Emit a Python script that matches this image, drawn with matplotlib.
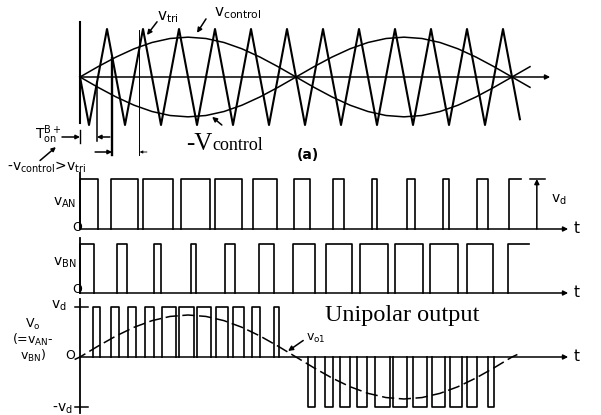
import numpy as np
import matplotlib
matplotlib.use('Agg')
import matplotlib.pyplot as plt

plt.rcParams['font.family'] = ['DejaVu Sans']
plt.rcParams['mathtext.fontset'] = 'dejavusans'

# ---------------- data (time in carrier periods, voltages normalised) ----------------
# triangular carrier vertices
tri_t = [0, 0.25, 0.75, 1.25, 1.75, 2.25, 2.75, 3.25, 3.75, 4.25, 4.75, 5.25, 5.75,
         6.25, 6.75, 7.25, 7.75, 8.25, 8.75, 9.25, 9.75, 10.25, 10.75, 11.25, 11.75, 12.22]
tri_v = [0, -1, 1, -1, 1, -1, 1, -1, 1, -1, 1, -1, 1,
         -1, 1, -1, 1, -1, 1, -1, 1, -1, 1, -1, 1, -0.88]

# control signal samples
ctl_t = [0, 0.5, 1, 1.5, 2, 2.5, 3, 3.5, 4, 4.5, 5, 5.5, 6,
         6.5, 7, 7.5, 8, 8.5, 9, 9.5, 10, 10.5, 11, 11.5, 12, 12.5]
ctl_v = [0, 0.215, 0.415, 0.587, 0.719, 0.802, 0.83, 0.802, 0.719, 0.587, 0.415, 0.215, 0,
         -0.215, -0.415, -0.587, -0.719, -0.802, -0.83, -0.802, -0.719, -0.587, -0.415, -0.215, 0, 0.215]

# v_AN pulses (rise, fall); last one open-ended
van_edges = [(0, 0.5), (0.86, 1.61), (1.75, 2.58), (2.81, 3.61), (3.75, 4.5), (4.81, 5.47),
             (5.94, 6.39), (7.03, 7.33), (8.11, 8.25), (9.08, 9.31), (10.08, 10.25), (11.03, 11.33)]
van_last = (11.92, 12.25)

# v_BN pulses
vbn_edges = [(0, 0.39), (1.03, 1.31), (2.06, 2.25), (3.08, 3.22), (4.03, 4.31), (4.97, 5.39),
             (5.92, 6.53), (6.83, 7.56), (7.78, 8.56), (8.75, 9.53), (9.72, 10.5), (10.75, 11.47)]
vbn_last = (11.89, 12.47)

# v_o pulses
vo_pos = [(0.36, 0.56), (0.86, 1.08), (1.33, 1.56), (1.81, 2.06), (2.28, 2.67), (2.75, 3.17),
          (3.25, 3.64), (3.78, 4.11), (4.25, 4.56), (4.78, 5.0), (5.39, 5.53)]
vo_neg = [(6.33, 6.53), (6.81, 7.03), (7.22, 7.5), (7.69, 7.97), (8.19, 8.61), (8.69, 9.08),
          (9.25, 9.64), (9.78, 10.14), (10.28, 10.61), (10.75, 11.03), (11.33, 11.5)]

# fundamental v_o1 samples
vo1_t = [-0.15, 0, 0.5, 1, 1.5, 2, 2.5, 3, 3.5, 4, 4.5, 5, 5.5, 6,
         6.5, 7, 7.5, 8, 8.5, 9, 9.5, 10, 10.5, 11, 11.5, 12, 12.15]
vo1_v = [-0.05, 0, 0.217, 0.42, 0.594, 0.727, 0.811, 0.84, 0.811, 0.727, 0.594, 0.42, 0.217, 0,
         -0.217, -0.42, -0.594, -0.727, -0.811, -0.84, -0.811, -0.727, -0.594, -0.42, -0.217, 0, 0.05]

# ---------------- figure ----------------
W, H = 601, 415
fig = plt.figure(figsize=(W / 100, H / 100), dpi=100)
XLIM = (-80 / 36, 521 / 36)


def band(top, bot, ylim):
    ax = fig.add_axes([0, 1 - bot / H, 1, (bot - top) / H])
    ax.set_xlim(*XLIM)
    ax.set_ylim(*ylim)
    ax.axis('off')
    return ax


def arrow(ax, x0, y0, x1, y1, lw=1.1, ms=7):
    ax.annotate('', xy=(x1, y1), xytext=(x0, y0), annotation_clip=False,
                arrowprops=dict(arrowstyle='-|>', lw=lw, color='black',
                                mutation_scale=ms, shrinkA=0, shrinkB=0))


def pulses(ax, edges, level, last=None, lw=1.2):
    xs, ys = [], []
    for a, b in edges:
        xs += [a, a, b, b, np.nan]
        ys += [0, level, level, 0, np.nan]
    if last is not None:
        xs += [last[0], last[0], last[1]]
        ys += [0, level, level]
    ax.plot(xs, ys, color='black', lw=lw, clip_on=False)


K = 'black'
serif = ['Liberation Serif', 'DejaVu Serif']

# ---- top panel: carrier & control ----
ax0 = band(0, 172, ((77 - 172) / 48, 77 / 48))
ax0.plot(tri_t, tri_v, color=K, lw=1.5, clip_on=False)
ax0.plot(ctl_t, ctl_v, color=K, lw=1.1, clip_on=False)
ax0.plot(ctl_t, -np.array(ctl_v), color=K, lw=1.1, clip_on=False)
ax0.plot([0, 0], [1.146, -0.958], color=K, lw=1.5)
arrow(ax0, 0, 0, 13.06, 0, lw=1.1, ms=7)
# marker lines
ax0.plot([0, 0], [-1.1, -1.375], color=K, lw=1.0, clip_on=False)
ax0.plot([0.47, 0.47], [-0.1, -1.33], color=K, lw=1.1, clip_on=False)
ax0.plot([0.89, 0.89], [0.4, -1.625], color=K, lw=1.7, clip_on=False)
ax0.plot([1.64, 1.64], [0.98, -1.625], color=K, lw=0.7, clip_on=False)
arrow(ax0, -0.5, -1.25, 0, -1.25, ms=6)
arrow(ax0, 0.83, -1.25, 0.47, -1.25, ms=6)
arrow(ax0, 0.42, -1.5625, 0.89, -1.5625, ms=6)
arrow(ax0, 1.86, -1.5625, 1.66, -1.5625, lw=0.6, ms=4)
ax0.text(-0.88, -1.2, 'T$^{\\mathrm{B+}}_{\\mathrm{on}}$', fontsize=10, ha='center', va='center')
ax0.text(-0.94, -1.875, '-v$_{\\mathrm{control}}$>v$_{\\mathrm{tri}}$', fontsize=10,
         ha='center', va='center')
arrow(ax0, -1.11, -1.74, -0.67, -1.46, ms=6)
ax0.text(2.45, 1.24, 'v$_{\\mathrm{tri}}$', fontsize=11, ha='center', va='center')
arrow(ax0, 2.14, 1.15, 1.86, 0.875, ms=7)
ax0.text(4.39, 1.33, 'v$_{\\mathrm{control}}$', fontsize=11, ha='center', va='center')
arrow(ax0, 3.5, 1.21, 3.25, 0.92, ms=7)
ax0.text(3.69, -1.52, '-V', fontsize=18, family=serif, ha='right', va='baseline')
ax0.text(3.69, -1.52, 'control', fontsize=13, family=serif, ha='left', va='baseline')
arrow(ax0, 3.94, -1.0, 3.67, -0.83, ms=7)
ax0.text(6.33, -1.625, '(a)', fontsize=10, fontweight='bold', ha='center', va='center')

# ---- v_AN ----
ax1 = band(172, 236, ((229 - 236) / 50, (229 - 172) / 50))
pulses(ax1, van_edges, 1, van_last)
ax1.plot([0, 0], [1.14, 0], color=K, lw=1.3)
arrow(ax1, 0, 0, 13.56, 0, ms=7)
ax1.text(0.05, 0.04, 'O', fontsize=9, ha='right', va='center')
ax1.text(-0.42, 0.52, 'v$_{\\mathrm{AN}}$', fontsize=10, ha='center', va='center')
arrow(ax1, 12.69, 0, 12.69, 1.0, ms=7)
ax1.plot([12.5, 12.92], [1.0, 1.0], color=K, lw=1.1)
ax1.text(13.3, 0.58, 'v$_{\\mathrm{d}}$', fontsize=10, ha='center', va='center')
ax1.text(13.8, 0.02, 't', fontsize=11, ha='center', va='center')

# ---- v_BN ----
ax2 = band(236, 298, ((293 - 298) / 49, (293 - 236) / 49))
pulses(ax2, vbn_edges, 1, vbn_last)
ax2.plot([0, 0], [1.12, 0], color=K, lw=1.3)
arrow(ax2, 0, 0, 13.56, 0, ms=7)
ax2.text(0.05, 0.08, 'O', fontsize=9, ha='right', va='center')
ax2.text(-0.42, 0.61, 'v$_{\\mathrm{BN}}$', fontsize=10, ha='center', va='center')
ax2.text(13.8, 0.02, 't', fontsize=11, ha='center', va='center')

# ---- v_o ----
ax3 = band(298, 415, ((357 - 415) / 50, (357 - 298) / 50))
pulses(ax3, vo_pos, 1)
pulses(ax3, vo_neg, -1)
ax3.plot(vo1_t, vo1_v, color=K, lw=1.1, ls=(0, (8, 3)), clip_on=False)
ax3.plot([0, 0], [1.16, -1.12], color=K, lw=1.3)
ax3.plot([-0.14, 0.22], [1, 1], color=K, lw=1.1)
ax3.plot([-0.14, 0.22], [-1, -1], color=K, lw=1.1)
arrow(ax3, 0, 0, 13.56, 0, ms=7)
ax3.text(-0.6, 1.03, 'v$_{\\mathrm{d}}$', fontsize=10, ha='center', va='center')
ax3.text(-0.28, 0.04, 'O', fontsize=9, ha='center', va='center')
ax3.text(-0.5, -1.04, '-v$_{\\mathrm{d}}$', fontsize=10, ha='center', va='center')
ax3.text(-1.3, 0.33, 'V$_{\\mathrm{o}}$\n(=v$_{\\mathrm{AN}}$-\nv$_{\\mathrm{BN}}$)', fontsize=9,
         ha='center', va='center', linespacing=1.0, multialignment='center')
ax3.text(8.94, 0.84, 'Unipolar output', fontsize=17.5, family=serif, ha='center', va='center')
ax3.text(6.27, 0.38, 'v$_{\\mathrm{o1}}$', fontsize=9, ha='left', va='center')
arrow(ax3, 6.2, 0.33, 5.78, 0.12, ms=7)
ax3.text(13.8, 0.02, 't', fontsize=11, ha='center', va='center')

fig.savefig('out.png', dpi=100)
